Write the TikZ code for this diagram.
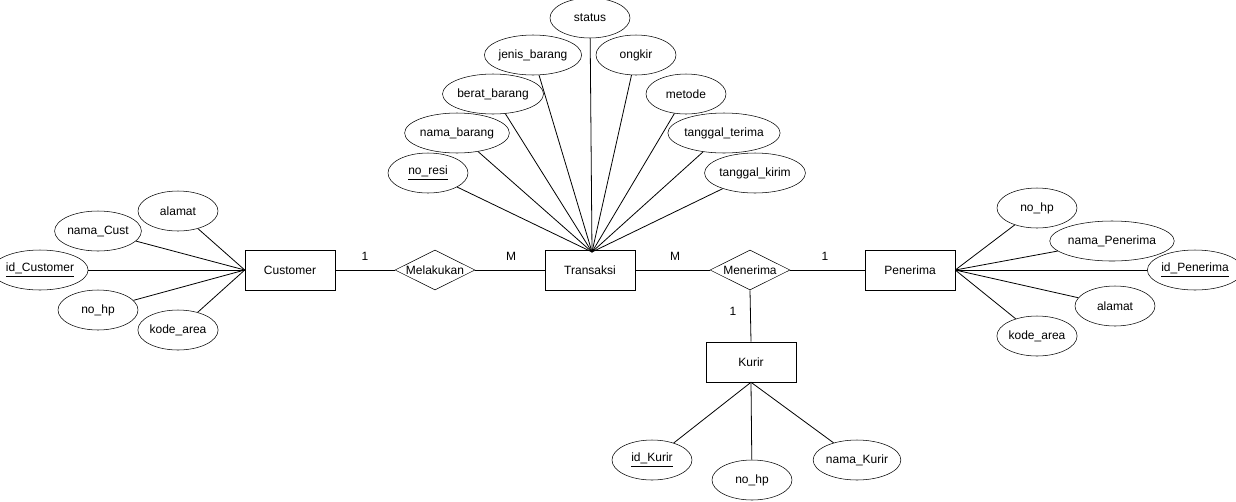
\documentclass[tikz,border=0pt]{standalone}
\usepackage{fontspec}
\setmainfont{Liberation Sans}
\usetikzlibrary{shapes.geometric}
\begin{document}
\begin{tikzpicture}[x=0.75pt,y=-0.75pt,font=\fontsize{9}{11}\selectfont,
  ent/.style={draw,minimum width=67.5pt,minimum height=30pt,inner sep=1pt},
  rel/.style={draw,diamond,aspect=2,minimum width=60pt,minimum height=30pt,inner sep=0pt},
  att/.style={draw,ellipse,minimum width=60pt,minimum height=30pt,inner sep=0pt},
  ln/.style={draw,line width=0.6pt}]
\useasboundingbox (0,0) rectangle (1236,501);
\node[ent] (cust) at (290,270) {Customer};
\node[rel] (mel) at (435,270) {Melakukan};
\node[ent] (tr) at (590,270) {Transaksi};
\node[rel] (men) at (750,270) {Menerima};
\node[ent] (pen) at (910,270) {Penerima};
\node[ent] (kur) at (751,362) {Kurir};
\coordinate (tc) at (592,252);
% customer attributes
\node[att] (c1) at (178,211) {alamat};
\node[att] (c2) at (98,231) {nama\_Cust};
\node[att] (c3) at (40,270) {\underline{id\_Customer}};
\node[att] (c4) at (98,310) {no\_hp};
\node[att] (c5) at (178,330) {kode\_area};
\foreach \a in {c1,c2,c3,c4,c5} \draw[ln] (\a) -- (cust.west);
% transaksi attributes
\node[att] (t1) at (428,173) {\underline{no\_resi}};
\node[att] (t2) at (457,133) {nama\_barang};
\node[att] (t3) at (493,94) {berat\_barang};
\node[att] (t4) at (533,55) {jenis\_barang};
\node[att] (t5) at (590,18) {status};
\node[att] (t6) at (636,55) {ongkir};
\node[att] (t7) at (686,94) {metode};
\node[att] (t8) at (724,133) {tanggal\_terima};
\node[att] (t9) at (755,173) {tanggal\_kirim};
\foreach \a in {t1,t2,t3,t4,t5,t6,t7,t8,t9} \draw[ln] (\a) -- (tc);
% penerima attributes
\node[att] (p1) at (1037,208) {no\_hp};
\node[att] (p2) at (1112,241) {nama\_Penerima};
\node[att] (p3) at (1195,270) {\underline{id\_Penerima}};
\node[att] (p4) at (1115,306) {alamat};
\node[att] (p5) at (1037,336) {kode\_area};
\foreach \a in {p1,p2,p3,p4,p5} \draw[ln] (\a) -- (pen.east);
% kurir attributes
\node[att] (k1) at (652,460) {\underline{id\_Kurir}};
\node[att] (k2) at (752,480) {no\_hp};
\node[att] (k3) at (857,460) {nama\_Kurir};
\foreach \a in {k1,k2,k3} \draw[ln] (\a) -- (kur.south);
% relationships
\draw[ln] (cust) -- (mel);
\draw[ln] (mel) -- (tr);
\draw[ln] (tr) -- (men);
\draw[ln] (men) -- (pen);
\draw[ln] (men.south) -- (kur.north);
\node (l1) at (365,256) {1};
\node (l2) at (511,256) {M};
\node (l3) at (675,256) {M};
\node (l4) at (825,256) {1};
\node (l5) at (733,311) {1};
\end{tikzpicture}
\end{document}
